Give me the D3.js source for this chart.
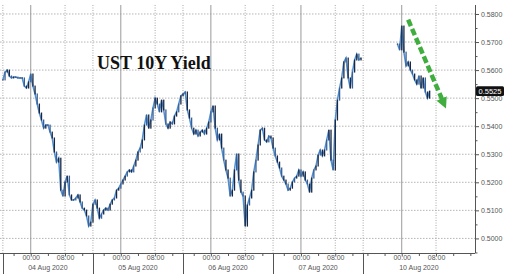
<!DOCTYPE html>
<html>
<head>
<meta charset="utf-8">
<title>UST 10Y Yield</title>
<style>
body { margin: 0; background: #fff; }
svg { display: block; font-family: "Liberation Sans", Arial, sans-serif; }
.hgrid line { stroke: #b5b5b5; stroke-dasharray: 1.5,1.5; }
.vgrid .solid { stroke: #9a9a9a; stroke-width: 1; }
.vgrid .dot { stroke: #a8a8a8; stroke-dasharray: 1,1.5; }
.axis path, .axis line { stroke: #555; }
.axis text { fill: #555; font-size: 7px; }
.title { font-family: "Liberation Serif", "Times New Roman", serif; font-weight: bold; font-size: 18px; fill: #111; }
</style>
<script src="https://d3js.org/d3.v7.min.js"></script>
</head>
<body>
<svg id="chart" width="507" height="274"></svg>
<script>
// sessions (trading days) on the time axis
var plotStart = '2020-08-03 16:50';
var sessionLabels = ['04 Aug 2020', '05 Aug 2020', '06 Aug 2020', '07 Aug 2020', '10 Aug 2020'];
var sessionOpens  = ['2020-08-03 17:30', '2020-08-04 17:30', '2020-08-05 17:30', '2020-08-06 17:30', '2020-08-09 15:00'];
var sessionCloses = ['2020-08-04 14:30', '2020-08-05 14:30', '2020-08-06 14:30', '2020-08-07 14:30', '2020-08-10 17:05'];

// 30 minute closes, first one at seriesStarts[i]
var seriesStarts = ['2020-08-03 17:30', '2020-08-04 17:30', '2020-08-05 17:30', '2020-08-06 17:30', '2020-08-09 23:00'];
var aug04 = [0.5565, 0.5593, 0.5600, 0.5579, 0.5572, 0.5575, 0.5575, 0.5572, 0.5572, 0.5572, 0.5543, 0.5536, 0.5558, 0.5586,
	0.5543, 0.5515, 0.5479, 0.5447, 0.5422, 0.5393, 0.5404, 0.5404, 0.5379, 0.5358, 0.5308, 0.5272, 0.5286, 0.5172,
	0.5151, 0.5201, 0.5222, 0.5155, 0.5137, 0.5137, 0.5144, 0.5155, 0.5130, 0.5108, 0.5101, 0.5080, 0.5044, 0.5058];
var aug05 = [0.5122, 0.5137, 0.5108, 0.5072, 0.5087, 0.5101, 0.5108, 0.5101, 0.5122, 0.5137, 0.5144, 0.5172, 0.5179, 0.5194,
	0.5208, 0.5222, 0.5237, 0.5244, 0.5237, 0.5258, 0.5279, 0.5308, 0.5322, 0.5351, 0.5404, 0.5440, 0.5393, 0.5422,
	0.5465, 0.5500, 0.5479, 0.5451, 0.5493, 0.5458, 0.5408, 0.5393, 0.5415, 0.5408, 0.5436, 0.5451, 0.5479, 0.5508];
var aug06 = [0.5515, 0.5522, 0.5458, 0.5429, 0.5393, 0.5372, 0.5386, 0.5365, 0.5379, 0.5386, 0.5372, 0.5393, 0.5415, 0.5451,
	0.5472, 0.5393, 0.5351, 0.5372, 0.5322, 0.5279, 0.5244, 0.5215, 0.5151, 0.5172, 0.5244, 0.5301, 0.5208, 0.5165,
	0.5151, 0.5044, 0.5119, 0.5144, 0.5172, 0.5237, 0.5279, 0.5333, 0.5386, 0.5393, 0.5351, 0.5344, 0.5365, 0.5358];
var aug07 = [0.5322, 0.5294, 0.5272, 0.5251, 0.5222, 0.5208, 0.5194, 0.5172, 0.5179, 0.5201, 0.5215, 0.5222, 0.5244, 0.5222,
	0.5237, 0.5208, 0.5194, 0.5165, 0.5215, 0.5244, 0.5258, 0.5297, 0.5315, 0.5294, 0.5315, 0.5351, 0.5386, 0.5279,
	0.5244, 0.5422, 0.5493, 0.5536, 0.5572, 0.5629, 0.5643, 0.5572, 0.5536, 0.5593, 0.5636, 0.5657, 0.5636, 0.5643];
var aug10 = [0.5693, 0.5672, 0.5757, 0.5664, 0.5615, 0.5629, 0.5600, 0.5586, 0.5565, 0.5550, 0.5579, 0.5536, 0.5572, 0.5522,
	0.5500, 0.5525];
var sessionSeries = [aug04, aug05, aug06, aug07, aug10];

var yTicks = [0.50, 0.51, 0.52, 0.53, 0.54, 0.55, 0.56, 0.57, 0.58];
var yMinorTicks = [0.495, 0.505, 0.515, 0.525, 0.535, 0.545, 0.555, 0.565, 0.575];
var lastValue = 0.5525;
var arrowFrom = ['2020-08-10 01:30', 0.5780];
var arrowTo = ['2020-08-10 10:20', 0.5462];

var W = 507, H = 274,
	plot = { left: 0, right: 475, top: 5, bottom: 253 };

var parse = d3.timeParse('%Y-%m-%d %H:%M'),
	HOUR = 36e5,
	svg = d3.select('#chart');

// piecewise time scale that skips the hours between sessions
var knots = [parse(plotStart)];
sessionOpens.forEach(function (o, i) { knots.push(parse(o), parse(sessionCloses[i])); });
var acc = 0, cum = [0];
for (var i = 1; i < knots.length; i++) {
	if (!(i % 2 === 1 && i > 1)) acc += (knots[i] - knots[i - 1]) / HOUR;
	cum.push(acc);
}
var x = d3.scaleTime()
	.domain(knots)
	.range(cum.map(function (c) { return plot.left + c * (plot.right - plot.left) / acc; }));

var y = d3.scaleLinear().domain([0.4948, 0.5832]).range([plot.bottom, plot.top]);

// points
var runs = [[], []];
sessionSeries.forEach(function (vals, s) {
	var t0 = parse(seriesStarts[s]);
	vals.forEach(function (v, j) {
		runs[s < 4 ? 0 : 1].push({ t: new Date(+t0 + j * 30 * 60000), v: v });
	});
});

// horizontal grid
svg.append('g').attr('class', 'hgrid')
	.selectAll('line').data(yTicks).enter().append('line')
	.attr('x1', plot.left).attr('x2', plot.right)
	.attr('y1', function (d) { return y(d); }).attr('y2', function (d) { return y(d); });

// vertical grid
var vg = svg.append('g').attr('class', 'vgrid');
sessionOpens.forEach(function (o, i) {
	var day = d3.timeDay.ceil(parse(o)),
		t8 = d3.timeHour.offset(day, 8);
	[[parse(o), 'dot'], [day, 'solid'], [t8, 'dot']].forEach(function (g) {
		vg.append('line').attr('class', g[1])
			.attr('x1', x(g[0])).attr('x2', x(g[0]))
			.attr('y1', plot.top).attr('y2', plot.bottom);
	});
});

// bottom axis
var xTicks = [];
sessionOpens.forEach(function (o, i) {
	xTicks = xTicks.concat(d3.timeHour.every(4).range(parse(o), parse(sessionCloses[i])));
});
var fmt = d3.timeFormat('%H:%M');
var xAxis = svg.append('g').attr('class', 'axis x')
	.attr('transform', 'translate(0,' + plot.bottom + ')')
	.call(d3.axisBottom(x).tickValues(xTicks).tickSize(3).tickSizeOuter(0)
		.tickFormat(function (d) { var h = d.getHours(); return (h === 0 || h === 8) ? fmt(d) : ''; }));
xAxis.select('.domain').attr('d', 'M' + plot.left + ',0.5H' + plot.right);
xAxis.selectAll('.tick text').attr('y', 2).attr('dy', '0.71em');

// session separators and date labels
sessionOpens.forEach(function (o, i) {
	var xo = Math.round(x(parse(o))) + 0.5;
	xAxis.append('line').attr('x1', xo).attr('x2', xo).attr('y1', 0).attr('y2', H - plot.bottom)
		.attr('stroke', '#333');
	var day = d3.timeDay.ceil(parse(o));
	xAxis.append('text')
		.attr('x', x(d3.timeHour.offset(day, 4)))
		.attr('y', 16.5)
		.attr('text-anchor', 'middle')
		.text(sessionLabels[i]);
});

// right axis
var yAxis = svg.append('g').attr('class', 'axis y')
	.attr('transform', 'translate(' + plot.right + ',0)')
	.call(d3.axisRight(y).tickValues(yTicks).tickSize(4).tickSizeOuter(0).tickFormat(d3.format('.4f')));
yAxis.select('.domain').attr('d', 'M0.5,' + plot.top + 'V' + plot.bottom);
yAxis.selectAll('.tick text').attr('x', 6);
svg.append('g').attr('class', 'axis')
	.attr('transform', 'translate(' + plot.right + ',0)')
	.call(d3.axisRight(y).tickValues(yMinorTicks).tickSize(2.5).tickFormat(''))
	.select('.domain').remove();

// line and bars
var line = d3.line().x(function (d) { return x(d.t); }).y(function (d) { return y(d.v); });
var bars = [];
runs.forEach(function (run) {
	run.forEach(function (d, j) {
		var prev = j > 0 ? run[j - 1].v : d.v;
		bars.push({ t: d.t, a: prev, b: d.v });
	});
});
svg.append('g').selectAll('path').data(runs).enter().append('path')
	.attr('d', line).attr('fill', 'none').attr('stroke', '#4f8fd2').attr('stroke-width', 1.5);
svg.append('g').selectAll('rect').data(bars).enter().append('rect')
	.attr('x', function (d) { return x(d.t) - 0.6; })
	.attr('width', 1.3)
	.attr('y', function (d) { return y(Math.max(d.a, d.b)) - 0.5; })
	.attr('height', function (d) { return Math.abs(y(d.a) - y(d.b)) + 1; })
	.attr('fill', function (d, i) { return i % 3 === 1 ? '#3a5f92' : '#1b2740'; });

// title
svg.append('text').attr('class', 'title').attr('x', 97).attr('y', 69).text('UST 10Y Yield');

// green arrow
var defs = svg.append('defs');
defs.append('marker').attr('id', 'head')
	.attr('markerUnits', 'userSpaceOnUse')
	.attr('viewBox', '0 0 10 10').attr('refX', 2).attr('refY', 5)
	.attr('markerWidth', 11).attr('markerHeight', 12).attr('orient', 'auto')
	.append('path').attr('d', 'M0,0L10,5L0,10Z').attr('fill', '#3fae3f');
var a0 = [x(parse(arrowFrom[0])), y(arrowFrom[1])],
	a1 = [x(parse(arrowTo[0])), y(arrowTo[1])],
	len = Math.hypot(a1[0] - a0[0], a1[1] - a0[1]),
	k = (len - 9) / len;
svg.append('line')
	.attr('x1', a0[0]).attr('y1', a0[1])
	.attr('x2', a0[0] + (a1[0] - a0[0]) * k).attr('y2', a0[1] + (a1[1] - a0[1]) * k)
	.attr('stroke', '#3fae3f').attr('stroke-width', 4.5).attr('stroke-dasharray', '7,3')
	.attr('marker-end', 'url(#head)');

// last value tag
var ly = y(lastValue);
svg.append('rect').attr('x', plot.right + 1).attr('y', ly - 4.8).attr('width', 28).attr('height', 9.6)
	.attr('rx', 1.5).attr('fill', '#111');
svg.append('text').attr('x', plot.right + 15).attr('y', ly).attr('dy', '0.35em')
	.attr('text-anchor', 'middle').attr('fill', '#fff').attr('font-size', '7.5px')
	.text(d3.format('.4f')(lastValue));
</script>
</body>
</html>
